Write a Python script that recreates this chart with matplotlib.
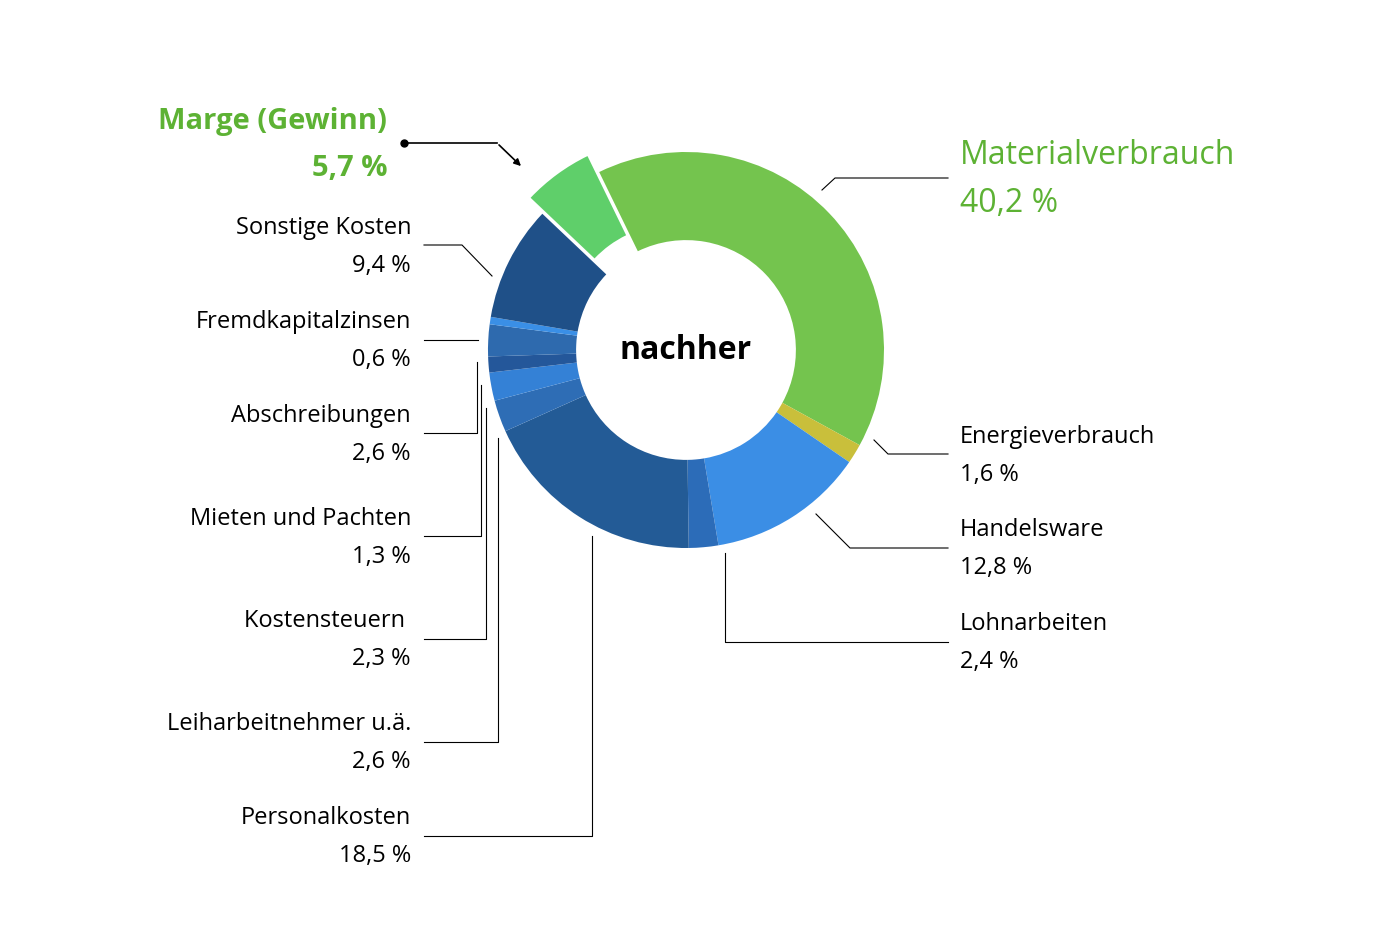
import matplotlib
matplotlib.use("Agg")
import matplotlib.pyplot as plt

labels = ["Materialverbrauch","Energieverbrauch","Handelsware","Lohnarbeiten","Personalkosten",
          "Leiharbeitnehmer u.ä.","Kostensteuern ","Mieten und Pachten","Abschreibungen",
          "Fremdkapitalzinsen","Sonstige Kosten","Marge (Gewinn)"]
values = [40.2,1.6,12.8,2.4,18.5,2.6,2.3,1.3,2.6,0.6,9.4,5.7]
colors = ["#74c44e","#c9bf3b","#3b8ee5","#2c6cb8","#235b96","#2e6db5","#3481d6","#24579a",
          "#2e6aae","#3a8fe6","#1f5088","#5fcf6a"]

plt.rcParams['font.family'] = ['Open Sans','DejaVu Sans']
fig = plt.figure(figsize=(13.92,9.38), dpi=100)
W,H = 1392,938
cx,cy,R = 686,350,198
ax = fig.add_axes([(cx-R)/W,(H-cy-R)/H,2*R/W,2*R/H])
explode = [0]*11+[0.1]
ax.pie(values, colors=colors, startangle=116, counterclock=False, explode=explode,
       radius=1, wedgeprops=dict(width=0.445, linewidth=0))
ax.set_xlim(-1,1); ax.set_ylim(-1,1); ax.set_aspect('equal'); ax.axis('off')
ax.text(0,0,"nachher",ha='center',va='center',fontsize=23,fontweight='bold',color='black')

ov = fig.add_axes([0,0,1,1]); ov.set_xlim(0,W); ov.set_ylim(H,0); ov.axis('off')
lines = [[(822,190),(835,178),(948,178)],[(874,440),(888,454),(948,454)],
         [(816,514),(850,548),(948,548)],[(725,553),(725,642),(948,642)],
         [(592,536),(592,836),(424,836)],[(498,438),(498,742),(424,742)],
         [(486,408),(486,639),(424,639)],[(481,385),(481,536),(424,536)],
         [(477,362),(477,433),(424,433)],[(478,340),(424,340)],
         [(492,276),(462,245),(424,245)]]
for l in lines:
    ov.plot([p[0] for p in l],[p[1] for p in l],color='black',lw=0.8)
ov.plot([404,497],[143,143],color='black',lw=1.2)
ov.plot(404,143,'o',color='black',ms=5)
ov.annotate("",xy=(523,168),xytext=(497,143),arrowprops=dict(arrowstyle='-|>',color='black',lw=1.2))

right = {0:(960,156,23,"#5db234"),1:(960,437,17,"black"),2:(960,530,17,"black"),3:(960,624,17,"black")}
for i,(x,y,fs,c) in right.items():
    ov.text(x,y,labels[i],ha='left',va='center',fontsize=fs,color=c)
    ov.text(x,y+47 if i==0 else y+38,f"{values[i]:.1f} %".replace('.',','),ha='left',va='center',fontsize=fs,color=c)
lefty = {10:228,9:322,8:416,7:519,6:621,5:724,4:818}
for i,y in lefty.items():
    ov.text(411,y,labels[i],ha='right',va='center',fontsize=17)
    ov.text(411,y+38,f"{values[i]:.1f} %".replace('.',','),ha='right',va='center',fontsize=17)
ov.text(387,122,labels[11],ha='right',va='center',fontsize=21,fontweight='bold',color='#5db234')
ov.text(387,168,"5,7 %",ha='right',va='center',fontsize=21,fontweight='bold',color='#5db234')
fig.savefig("out.png",dpi=100)
